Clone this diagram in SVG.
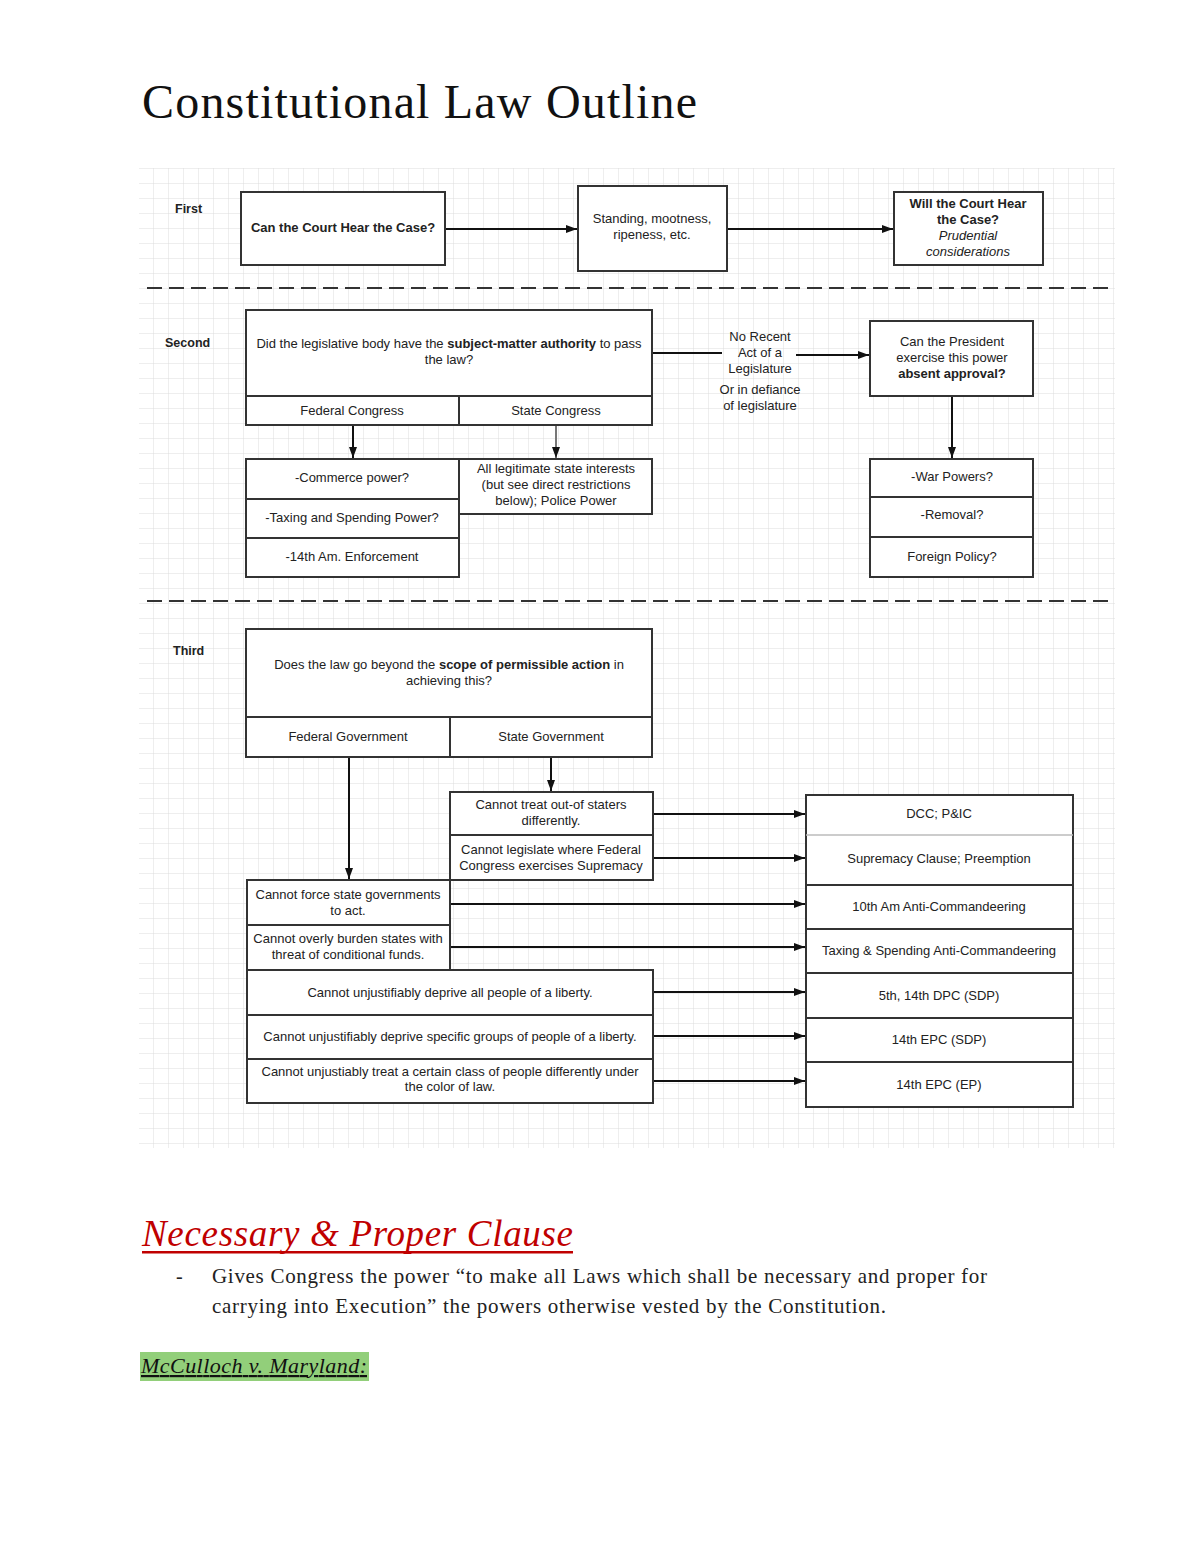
<svg xmlns="http://www.w3.org/2000/svg" width="1200" height="1553" viewBox="0 0 1200 1553">
<defs>
<pattern id="grid" x="139" y="169" width="15" height="15" patternUnits="userSpaceOnUse">
<path d="M15 0 V15 M0 15 H15" fill="none" stroke="#dcdcdc" stroke-width="1"/>
</pattern>
<marker id="ah" viewBox="0 0 11 8" refX="11" refY="4" markerWidth="11" markerHeight="8" markerUnits="userSpaceOnUse" orient="auto">
<path d="M0 0 L11 4 L0 8 Z" fill="#111"/>
</marker>
</defs>
<style>
.bx{fill:#fff;stroke:#333;stroke-width:2}
.t{font-family:"Liberation Sans",Arial,sans-serif;font-size:13px;fill:#222;text-anchor:middle}
.b{font-weight:bold}
.lbl{font-family:"Liberation Sans",Arial,sans-serif;font-size:12.5px;font-weight:bold;fill:#222}
.ln{fill:none;stroke:#111;stroke-width:2}
.ar{fill:none;stroke:#111;stroke-width:2;marker-end:url(#ah)}
.dash{fill:none;stroke:#333;stroke-width:2;stroke-dasharray:15 7}
.serif{font-family:"Liberation Serif","Times New Roman",serif}
</style>
<rect width="1200" height="1553" fill="#fff"/>
<text class="serif" x="142" y="118" font-size="48" fill="#111" textLength="555">Constitutional Law Outline</text>
<rect x="139" y="168" width="976" height="980" fill="url(#grid)"/>

<line class="dash" x1="147" y1="288" x2="1112" y2="288"/>
<line class="dash" x1="147" y1="601" x2="1112" y2="601"/>

<text class="lbl" x="175" y="213">First</text>
<text class="lbl" x="165" y="347">Second</text>
<text class="lbl" x="173" y="655">Third</text>

<g id="connectors">
<line class="ar" x1="445" y1="229" x2="577" y2="229"/>
<line class="ar" x1="727" y1="229" x2="893" y2="229"/>
<line class="ln" x1="652" y1="353" x2="722" y2="353"/>
<line class="ar" x1="796" y1="355" x2="869" y2="355"/>
<line class="ar" x1="353" y1="425" x2="353" y2="458"/>
<line x1="556" y1="425" x2="556" y2="458" stroke="#777" stroke-width="2" marker-end="url(#ah)"/>
<line class="ar" x1="952" y1="396" x2="952" y2="458"/>
<line class="ar" x1="349" y1="757" x2="349" y2="879"/>
<line class="ar" x1="551" y1="757" x2="551" y2="791"/>
<line class="ar" x1="653" y1="814" x2="805" y2="814"/>
<line class="ar" x1="653" y1="858" x2="805" y2="858"/>
<line class="ar" x1="450" y1="904" x2="805" y2="904"/>
<line class="ar" x1="450" y1="947" x2="805" y2="947"/>
<line class="ar" x1="653" y1="992" x2="805" y2="992"/>
<line class="ar" x1="653" y1="1036" x2="805" y2="1036"/>
<line class="ar" x1="653" y1="1081" x2="805" y2="1081"/>
</g>

<g id="n-can-hear">
<rect class="bx" x="241" y="192" width="204" height="73"/>
<text class="t b" x="343" y="232">Can the Court Hear the Case?</text>
</g>
<g id="n-standing">
<rect class="bx" x="578" y="186" width="149" height="85"/>
<text class="t" x="652" y="223">Standing, mootness,</text>
<text class="t" x="652" y="239">ripeness, etc.</text>
</g>
<g id="n-will-hear">
<rect class="bx" x="894" y="192" width="149" height="73"/>
<text class="t b" x="968" y="208">Will the Court Hear</text>
<text class="t b" x="968" y="224">the Case?</text>
<text class="t" x="968" y="240" font-style="italic">Prudential</text>
<text class="t" x="968" y="256" font-style="italic">considerations</text>
</g>

<g id="n-subject-matter">
<rect class="bx" x="246" y="310" width="406" height="86"/>
<text class="t" x="449" y="348">Did the legislative body have the <tspan font-weight="bold">subject-matter authority</tspan> to pass</text>
<text class="t" x="449" y="364">the law?</text>
</g>
<g id="n-federal-congress">
<rect class="bx" x="246" y="396" width="213" height="29"/>
<text class="t" x="352" y="415">Federal Congress</text>
</g>
<g id="n-state-congress">
<rect class="bx" x="459" y="396" width="193" height="29"/>
<text class="t" x="556" y="415">State Congress</text>
</g>
<g id="n-federal-powers">
<rect class="bx" x="246" y="459" width="213" height="40"/>
<text class="t" x="352" y="482">-Commerce power?</text>
<rect class="bx" x="246" y="499" width="213" height="39"/>
<text class="t" x="352" y="522">-Taxing and Spending Power?</text>
<rect class="bx" x="246" y="538" width="213" height="39"/>
<text class="t" x="352" y="561">-14th Am. Enforcement</text>
</g>
<g id="n-state-powers">
<rect class="bx" x="459" y="459" width="193" height="55"/>
<text class="t" x="556" y="473">All legitimate state interests</text>
<text class="t" x="556" y="489">(but see direct restrictions</text>
<text class="t" x="556" y="505">below); Police Power</text>
</g>
<g id="n-no-recent">
<text class="t" x="760" y="341">No Recent</text>
<text class="t" x="760" y="357">Act of a</text>
<text class="t" x="760" y="373">Legislature</text>
<text class="t" x="760" y="394">Or in defiance</text>
<text class="t" x="760" y="410">of legislature</text>
</g>
<g id="n-president">
<rect class="bx" x="870" y="321" width="163" height="75"/>
<text class="t" x="952" y="346">Can the President</text>
<text class="t" x="952" y="362">exercise this power</text>
<text class="t b" x="952" y="378">absent approval?</text>
</g>
<g id="n-president-powers">
<rect class="bx" x="870" y="459" width="163" height="38"/>
<text class="t" x="952" y="481">-War Powers?</text>
<rect class="bx" x="870" y="497" width="163" height="40"/>
<text class="t" x="952" y="519">-Removal?</text>
<rect class="bx" x="870" y="537" width="163" height="40"/>
<text class="t" x="952" y="561">Foreign Policy?</text>
</g>

<g id="n-scope">
<rect class="bx" x="246" y="629" width="406" height="88"/>
<text class="t" x="449" y="669">Does the law go beyond the <tspan font-weight="bold">scope of permissible action</tspan> in</text>
<text class="t" x="449" y="685">achieving this?</text>
</g>
<g id="n-federal-gov">
<rect class="bx" x="246" y="717" width="204" height="40"/>
<text class="t" x="348" y="741">Federal Government</text>
</g>
<g id="n-state-gov">
<rect class="bx" x="450" y="717" width="202" height="40"/>
<text class="t" x="551" y="741">State Government</text>
</g>
<g id="n-state-limits">
<rect class="bx" x="450" y="792" width="203" height="43"/>
<text class="t" x="551" y="809">Cannot treat out-of staters</text>
<text class="t" x="551" y="825">differently.</text>
<rect class="bx" x="450" y="835" width="203" height="45"/>
<text class="t" x="551" y="854">Cannot legislate where Federal</text>
<text class="t" x="551" y="870">Congress exercises Supremacy</text>
</g>
<g id="n-federal-limits">
<rect class="bx" x="247" y="880" width="203" height="45"/>
<text class="t" x="348" y="899">Cannot force state governments</text>
<text class="t" x="348" y="915">to act.</text>
<rect class="bx" x="247" y="925" width="203" height="45"/>
<text class="t" x="348" y="943">Cannot overly burden states with</text>
<text class="t" x="348" y="959">threat of conditional funds.</text>
</g>
<g id="n-liberty">
<rect class="bx" x="247" y="970" width="406" height="45"/>
<text class="t" x="450" y="997">Cannot unjustifiably deprive all people of a liberty.</text>
<rect class="bx" x="247" y="1015" width="406" height="44"/>
<text class="t" x="450" y="1041">Cannot unjustifiably deprive specific groups of people of a liberty.</text>
<rect class="bx" x="247" y="1059" width="406" height="44"/>
<text class="t" x="450" y="1076">Cannot unjustiably treat a certain class of people differently under</text>
<text class="t" x="450" y="1091">the color of law.</text>
</g>
<g id="n-doctrines">
<rect class="bx" x="806" y="795" width="267" height="312"/>
<line x1="806" y1="835" x2="1073" y2="835" stroke="#bbb" stroke-width="1.5"/>
<line x1="806" y1="885" x2="1073" y2="885" stroke="#333" stroke-width="2"/>
<line x1="806" y1="929" x2="1073" y2="929" stroke="#333" stroke-width="2"/>
<line x1="806" y1="973" x2="1073" y2="973" stroke="#333" stroke-width="2"/>
<line x1="806" y1="1018" x2="1073" y2="1018" stroke="#333" stroke-width="2"/>
<line x1="806" y1="1062" x2="1073" y2="1062" stroke="#333" stroke-width="2"/>
<text class="t" x="939" y="818">DCC; P&amp;IC</text>
<text class="t" x="939" y="863">Supremacy Clause; Preemption</text>
<text class="t" x="939" y="911">10th Am Anti-Commandeering</text>
<text class="t" x="939" y="955">Taxing &amp; Spending Anti-Commandeering</text>
<text class="t" x="939" y="1000">5th, 14th DPC (SDP)</text>
<text class="t" x="939" y="1044">14th EPC (SDP)</text>
<text class="t" x="939" y="1089">14th EPC (EP)</text>
</g>

<text class="serif" x="142" y="1246" font-size="37" font-style="italic" fill="#c00000" textLength="431">Necessary &amp; Proper Clause</text>
<rect x="142" y="1251" width="431" height="2.5" fill="#c00000"/>
<text class="serif" x="176" y="1283" font-size="20" fill="#222">-</text>
<text class="serif" x="212" y="1283" font-size="21" fill="#222" textLength="775">Gives Congress the power “to make all Laws which shall be necessary and proper for</text>
<text class="serif" x="212" y="1313" font-size="21" fill="#222" textLength="674">carrying into Execution” the powers otherwise vested by the Constitution.</text>
<rect x="140" y="1352" width="229" height="29" fill="#92cf7a"/>
<text class="serif" x="141" y="1373" font-size="22" font-style="italic" fill="#111" textLength="226" text-decoration="underline">McCulloch v. Maryland:</text>
</svg>
